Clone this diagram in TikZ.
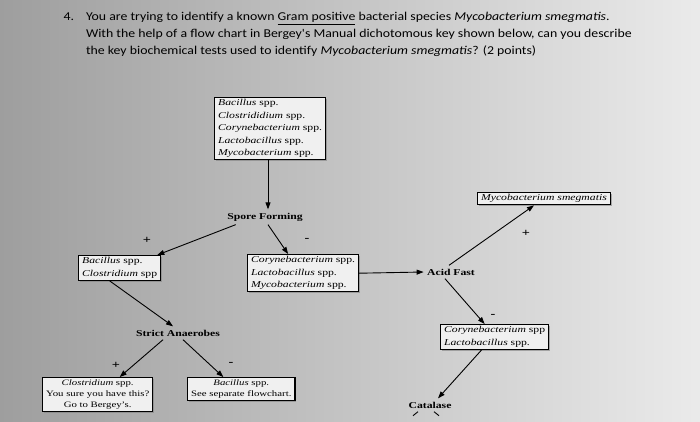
\documentclass[tikz,border=0pt]{standalone}
\usepackage{fontspec}
\setmainfont[FakeStretch=1.3]{Liberation Serif}
\newfontfamily\hdr[FakeStretch=1.15]{Carlito}
\usetikzlibrary{shadows,arrows.meta}
\begin{document}
\begin{tikzpicture}[x=1pt,y=-1pt,
  box/.style={draw=black,line width=1.2pt,fill=white!94!black,drop shadow={shadow xshift=1.5pt,shadow yshift=-1.5pt,opacity=.6},inner xsep=3.5pt,inner ysep=2pt,font=\fontsize{9}{12.5}\selectfont,align=left,anchor=north west},
  lbl/.style={font=\fontsize{9}{10}\selectfont\bfseries},
  sg/.style={font=\fontsize{11}{11}\selectfont\bfseries},
  arr/.style={-{Triangle[length=7pt,width=5pt]},line width=0.9pt}]
\shade[left color=black!38,right color=black!8] (0,0) rectangle (700,421);
\useasboundingbox (0,0) rectangle (700,421);
\node[font=\hdr\fontsize{12}{17}\selectfont,anchor=north west,align=left] (q) at (60,9)
  {4.\quad You are trying to identify a known \underline{Gram positive} bacterial species \textit{Mycobacterium smegmatis}.\\
  \phantom{4.\quad}With the help of a flow chart in Bergey's Manual dichotomous key shown below, can you describe\\
  \phantom{4.\quad}the key biochemical tests used to identify \textit{Mycobacterium smegmatis}? (2 points)};
\node[box] (top) at (214,97) {\textit{Bacillus} spp.\\\textit{Clostrididium} spp.\\\textit{Corynebacterium} spp.\\\textit{Lactobacillus} spp.\\\textit{Mycobacterium} spp.};
\node[lbl] (sf) at (265,217) {Spore Forming};
\node[box] (bc) at (78,255) {\textit{Bacillus} spp.\\\textit{Clostridium} spp};
\node[box] (clm) at (247,254) {\textit{Corynebacterium} spp.\\\textit{Lactobacillus} spp.\\\textit{Mycobacterium} spp.};
\node[lbl] (af) at (451,272) {Acid Fast};
\node[box] (ms) at (477,192) {\textit{Mycobacterium smegmatis}};
\node[box] (cl) at (440,324) {\textit{Corynebacterium} spp\\\textit{Lactobacillus} spp.};
\node[lbl] (cat) at (430,405) {Catalase};
\node[lbl] (sa) at (178,333) {Strict Anaerobes};
\node[box,align=center,font=\fontsize{8.3}{11}\selectfont] (clo) at (42,377) {\textit{Clostridium} spp.\\You sure you have this?\\Go to Bergey's.};
\node[box,align=center,font=\fontsize{8.3}{11}\selectfont] (bac) at (187,377) {\textit{Bacillus} spp.\\See separate flowchart.};
\node[sg] (p1) at (147,240) {+};
\node[sg] (m1) at (307,240) {-};
\node[sg] (p2) at (526,233) {+};
\node[sg] (m2) at (493,316) {-};
\node[sg] (p3) at (116,365) {+};
\node[sg] (m3) at (231,364) {-};
\draw[arr] (top.south -| 268,0) -- (sf.north -| 268,0);
\draw[arr] ([xshift=12pt]sf.south west) -- ([xshift=-4pt]bc.north east);
\draw[arr] ([xshift=3pt]sf.south) -- ([xshift=-15pt]clm.north);
\draw[arr] (clm.east) -- (af.west);
\draw[arr] ([xshift=-2pt]af.north) -- ([xshift=-10pt]ms.south);
\draw[arr] ([xshift=-6pt]af.south) -- ([xshift=-10pt]cl.north);
\draw[arr] ([xshift=-13pt]cl.south) -- ([xshift=8pt]cat.north);
\draw[arr] ([xshift=-10pt]bc.south) -- ([xshift=-5pt]sa.north);
\draw[arr] ([xshift=-15pt]sa.south) -- ([xshift=22pt]clo.north);
\draw[arr] ([xshift=5pt]sa.south) -- ([xshift=-18pt]bac.north);
\draw[line width=0.9pt] ([xshift=-12pt]cat.south) -- ++(-5,4);
\draw[line width=0.9pt] ([xshift=4pt]cat.south) -- ++(5,4);
\end{tikzpicture}
\end{document}
